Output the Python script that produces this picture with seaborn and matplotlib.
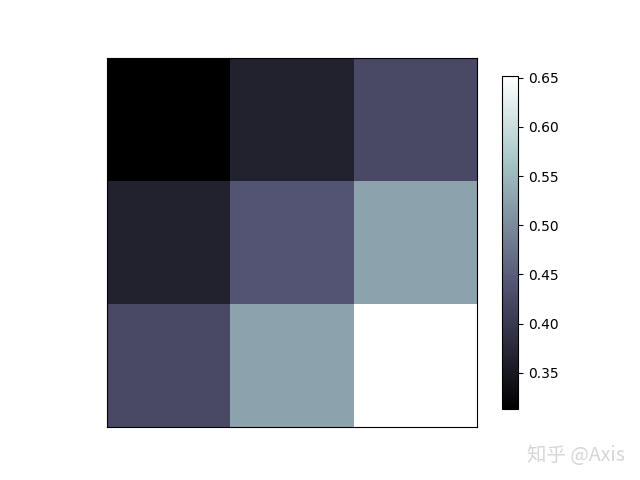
import numpy as np
import matplotlib
matplotlib.use('Agg')
import matplotlib.pyplot as plt
import seaborn as sns

# 3x3 values (symmetric grid)
row0 = [0.313660827978, 0.365348418405, 0.423733120134]
row1 = [0.365348418405, 0.439599930621, 0.525083754405]
row2 = [0.423733120134, 0.525083754405, 0.651536351379]
a = np.array([row0, row1, row2])

fig, ax = plt.subplots(figsize=(6.4, 4.8), dpi=100)
sns.heatmap(a, ax=ax, cmap='bone', square=True,
            xticklabels=False, yticklabels=False,
            cbar_kws={'shrink': 0.90})

# frame round the image and the colorbar, as in plain imshow
for s in ax.spines.values():
    s.set_visible(True)
    s.set_linewidth(0.8)
cb = ax.collections[0].colorbar
cb.outline.set_linewidth(0.8)
cb.outline.set_edgecolor('black')

fig.text(0.823, 0.040, '知乎 @Axis', color='#d6d6d6', fontsize=14,
         family=['Noto Sans CJK SC', 'DejaVu Sans'])

fig.savefig('out.png', dpi=100)
